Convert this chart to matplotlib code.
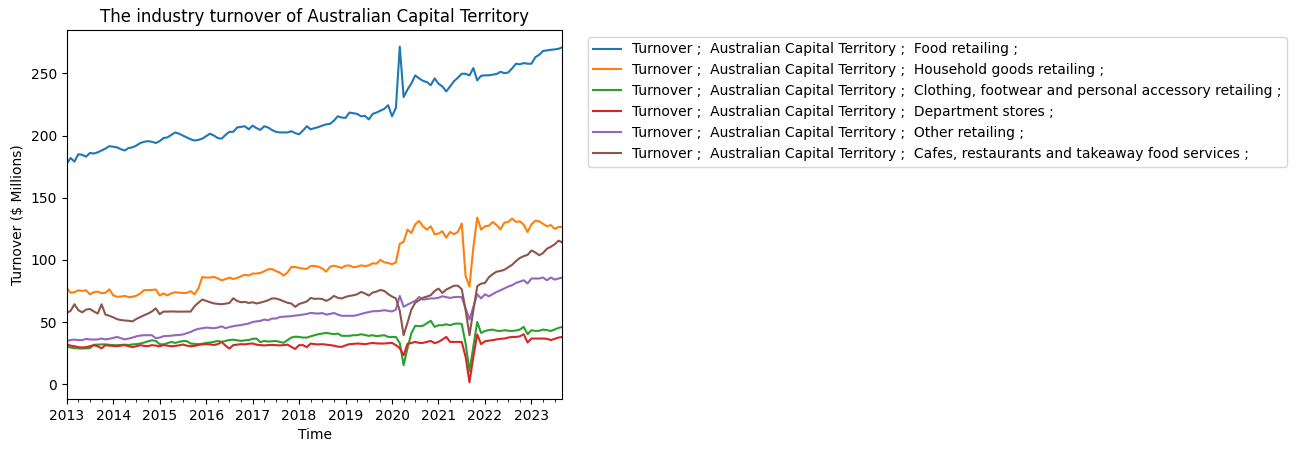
import numpy as np
import pandas as pd
import matplotlib
matplotlib.use('Agg')
import matplotlib.pyplot as plt

# monthly turnover, Jan 2013 - Sep 2023 ($ millions)
months = pd.period_range('2013-01', '2023-09', freq='M')

industries = [
    'Food retailing',
    'Household goods retailing',
    'Clothing, footwear and personal accessory retailing',
    'Department stores',
    'Other retailing',
    'Cafes, restaurants and takeaway food services',
]

food = [
    177.4, 182, 179, 185, 184.5, 183, 186, 185.5, 186.5, 188, 189.5, 191.5,
    191, 190.5, 189, 188, 190, 190.5, 192, 194, 195, 195.5, 195, 194,
    195.5, 198, 198.5, 200.5, 202.5, 201.5, 200, 198.5, 197, 196, 196.5, 197.5,
    199.5, 201.5, 200, 198, 197.5, 200.5, 203, 203, 206.5, 207, 207.5, 205,
    208, 206, 204.5, 207.5, 206.5, 204.5, 203, 202.5, 202.5, 202.5, 203.5, 202,
    201, 204, 207.5, 205, 206, 206.8, 208, 209, 209.4, 212, 215.5, 214.5,
    214.2, 218.5, 218, 217.4, 215.5, 215.8, 213, 217.4, 218.5, 220, 221.5, 224.4,
    215.5, 222.2, 271.5, 231, 237, 242, 248.4, 246, 244, 243, 240.5, 246,
    241.7, 239.5, 235.5, 239.5, 243.8, 246.5, 249.7, 249.7, 248.4, 254.3, 244.4, 248.1,
    248.4, 248.5, 249, 249.5, 251.3, 250.2, 250.7, 254, 257.8, 257.3, 258.3, 257.8,
    257.8, 263, 265, 268, 268.5, 269, 269.3, 269.8, 271,
]

household = [
    77.5, 73.5, 74, 75.5, 75, 75.5, 72.2, 74, 74.5, 73.2, 73.5, 76.3,
    71.5, 70.3, 70.5, 71, 70, 70.3, 71.2, 73, 75.7, 75.6, 75.8, 76.2,
    71.3, 73, 71.5, 73, 74, 73.6, 73.4, 73.4, 74.8, 72.3, 77, 86.3,
    85.7, 85.8, 86.3, 85.2, 83.5, 84.5, 85.7, 84.6, 85.5, 86.8, 88.1, 87.3,
    89, 89, 89.5, 90.8, 92.4, 92.6, 91, 89.8, 87.4, 89.8, 94.3, 94.3,
    93.5, 93, 92.7, 95.1, 95.1, 94.5, 93, 90.5, 94.5, 95.3, 94.5, 93.5,
    95.3, 95.5, 94, 94.5, 95.6, 95, 95.5, 97.3, 97, 100, 98, 97.5,
    96.5, 98, 113, 114.5, 124.3, 121.6, 128.6, 131.3, 127, 124.3, 127, 120.6,
    121.2, 123, 117.9, 122.5, 120.6, 122.5, 129.2, 87, 78.5, 110, 134, 124.3,
    127, 127.5, 130.5, 128, 124.5, 130, 130.5, 133.2, 130.5, 131, 128.3, 122.4,
    128.5, 131.5, 131, 129, 127, 128, 124.9, 126.5, 126.5,
]

clothing = [
    30.2, 29.5, 29, 28.8, 28.7, 28.8, 29, 31.6, 31.8, 32, 32, 31.7,
    31.4, 31.3, 31.6, 31.8, 31.5, 32, 32.2, 32.7, 33.5, 34.5, 35.3, 34.8,
    32.2, 32, 33, 34, 33.2, 34, 34.7, 34.6, 32.7, 32.4, 32.2, 32.5,
    33.2, 33.5, 34, 34.8, 34, 34.8, 35.5, 35.8, 35.3, 34.8, 35.3, 35.5,
    36.5, 36.7, 33.8, 34.8, 34.3, 34.5, 34.8, 34, 33.3, 35.4, 37.5, 38.2,
    38, 37.5, 37.5, 38.5, 39.4, 40.2, 40.7, 41.3, 40.7, 40.2, 40.7, 38.9,
    38.9, 38.9, 39.4, 39.4, 40.2, 39.5, 38.9, 39.4, 38.6, 39, 39.4, 38,
    38, 38, 33, 15.3, 29, 41, 47, 46.6, 47, 49, 51, 46.1,
    47.4, 47.4, 48.2, 47.4, 48.5, 48.8, 48.5, 32.7, 10.5, 30, 50, 41.2,
    42.8, 43.5, 43.9, 43, 42.8, 43.4, 43, 42.8, 43.2, 43.9, 46.1, 40.2,
    43.4, 42.8, 43, 43.9, 43.5, 42.8, 44, 45.3, 46.1,
]

department = [
    32.2, 31, 30.5, 29.8, 29.5, 29.8, 30.5, 31.4, 30.5, 28.8, 31.4, 31,
    30.8, 30.6, 31, 31.4, 30.5, 29.8, 30.5, 31.4, 30.8, 30.6, 31.4, 31,
    30.5, 31.4, 31, 30.5, 30.8, 31.2, 31.9, 31, 30.5, 30.8, 31.5, 32,
    32.2, 32, 31.5, 32.2, 34, 31, 28.6, 31.4, 31.8, 32.2, 32, 32.5,
    32.7, 31.8, 31.4, 31.2, 31.4, 31.6, 31.4, 31.2, 31.4, 31.8, 30, 28.3,
    31.4, 31.4, 29.8, 32.7, 32.2, 32, 32.2, 31.8, 31.4, 31, 30.2, 30,
    31.2, 32.2, 32.4, 32.7, 32.5, 32.2, 32.7, 33.2, 32.8, 32.7, 32.7, 33,
    33.2, 31.4, 29, 23.3, 32.5, 33.2, 34, 33.2, 33.2, 34, 34.8, 33,
    34, 35.9, 38, 34, 34, 34, 34, 22, 1.5, 22, 40, 32.2,
    34.5, 35, 35.4, 36, 36.5, 36.7, 37.5, 38, 38, 38.5, 40.2, 33.5,
    36.7, 36.7, 36.7, 36.7, 36.5, 35.5, 36.5, 37.5, 38,
]

other = [
    34.8, 35.5, 35.9, 35.4, 35.5, 36.4, 36, 35.9, 36, 36.7, 36, 36.5,
    37.2, 38, 37, 36, 36.7, 37.5, 38.5, 39.1, 39.4, 39.4, 39.4, 37,
    37.5, 38.6, 38.8, 39, 39.4, 39.6, 40, 41, 42, 43.5, 44.5, 45,
    45.5, 45.3, 45, 45.5, 46.5, 45, 46, 46.6, 47.2, 47.5, 48.2, 48.8,
    50, 50.5, 50.9, 52, 51.4, 52.8, 52.8, 54, 54.3, 54.5, 54.7, 55.2,
    55.5, 56, 56.5, 57.3, 57, 56.8, 57.2, 56, 56.5, 57.3, 56, 55,
    55, 55, 55, 55.5, 56.5, 57.3, 58, 58.7, 58.7, 59, 59.5, 59,
    58.5, 60, 71, 62.2, 64, 65.5, 67, 70.2, 68, 68.5, 69, 69,
    69.5, 70.7, 70, 69.4, 70, 70.2, 70, 61, 52, 62, 72.3, 69,
    72.3, 70.7, 72.5, 74.2, 75.5, 77, 78.5, 79.6, 81.4, 82.5, 83.6, 81,
    85, 85, 85, 85.8, 83.6, 85.8, 84.1, 85, 85.8,
]

cafes = [
    57.3, 59, 64.3, 59.5, 57.8, 60, 60.5, 58.5, 56.8, 64.2, 56, 55,
    53.8, 52.3, 51.6, 51.2, 51, 50.5, 52.5, 54, 55.5, 56.8, 58.5, 61,
    56.3, 58.4, 58.4, 58.5, 58.4, 58.3, 58.4, 58.4, 58.4, 62.7, 65.5, 68.1,
    67, 65.9, 65, 64.6, 64.3, 64.8, 65.3, 69.1, 67, 65.9, 66.2, 65.3,
    65.9, 64.9, 65.6, 66.5, 67.5, 69, 68.9, 68, 66.7, 65.5, 64.9, 62.2,
    64.5, 65.5, 66.5, 69.4, 68.6, 68.8, 68.5, 67, 68.5, 71, 69.5, 68.9,
    70.2, 71, 71.5, 72.3, 74.2, 73, 71.3, 73.7, 74.5, 75.8, 75, 72.5,
    70.5, 69, 59, 39.4, 49.5, 60, 65.5, 67.5, 69.5, 70.5, 71.6, 75,
    76.9, 73.4, 76.1, 77.7, 79.2, 79.2, 76.5, 59.5, 39.4, 59.5, 78.8, 80.9,
    81.4, 86, 88.5, 90.5, 91.1, 92, 94, 96, 99, 101.5, 103, 104,
    107.5, 106, 103.7, 105.5, 109, 110.5, 112.5, 115.5, 114,
]

series = [food, household, clothing, department, other, cafes]
labels = ['Turnover ;  Australian Capital Territory ;  %s ;' % name for name in industries]

df = pd.DataFrame({lab: vals for lab, vals in zip(labels, series)}, index=months)

fig, ax = plt.subplots(figsize=(12.98, 4.53), dpi=100)
plt.subplots_adjust(left=0.0514, right=0.4333, top=0.934, bottom=0.119)

df.plot(ax=ax)

ax.set_title('The industry turnover of Australian Capital Territory')
ax.set_xlabel('Time')
ax.set_ylabel(r'Turnover (\$ Millions)')
ax.legend(bbox_to_anchor=(1.037, 1), loc='upper left')

plt.savefig('out.png', dpi=100)
